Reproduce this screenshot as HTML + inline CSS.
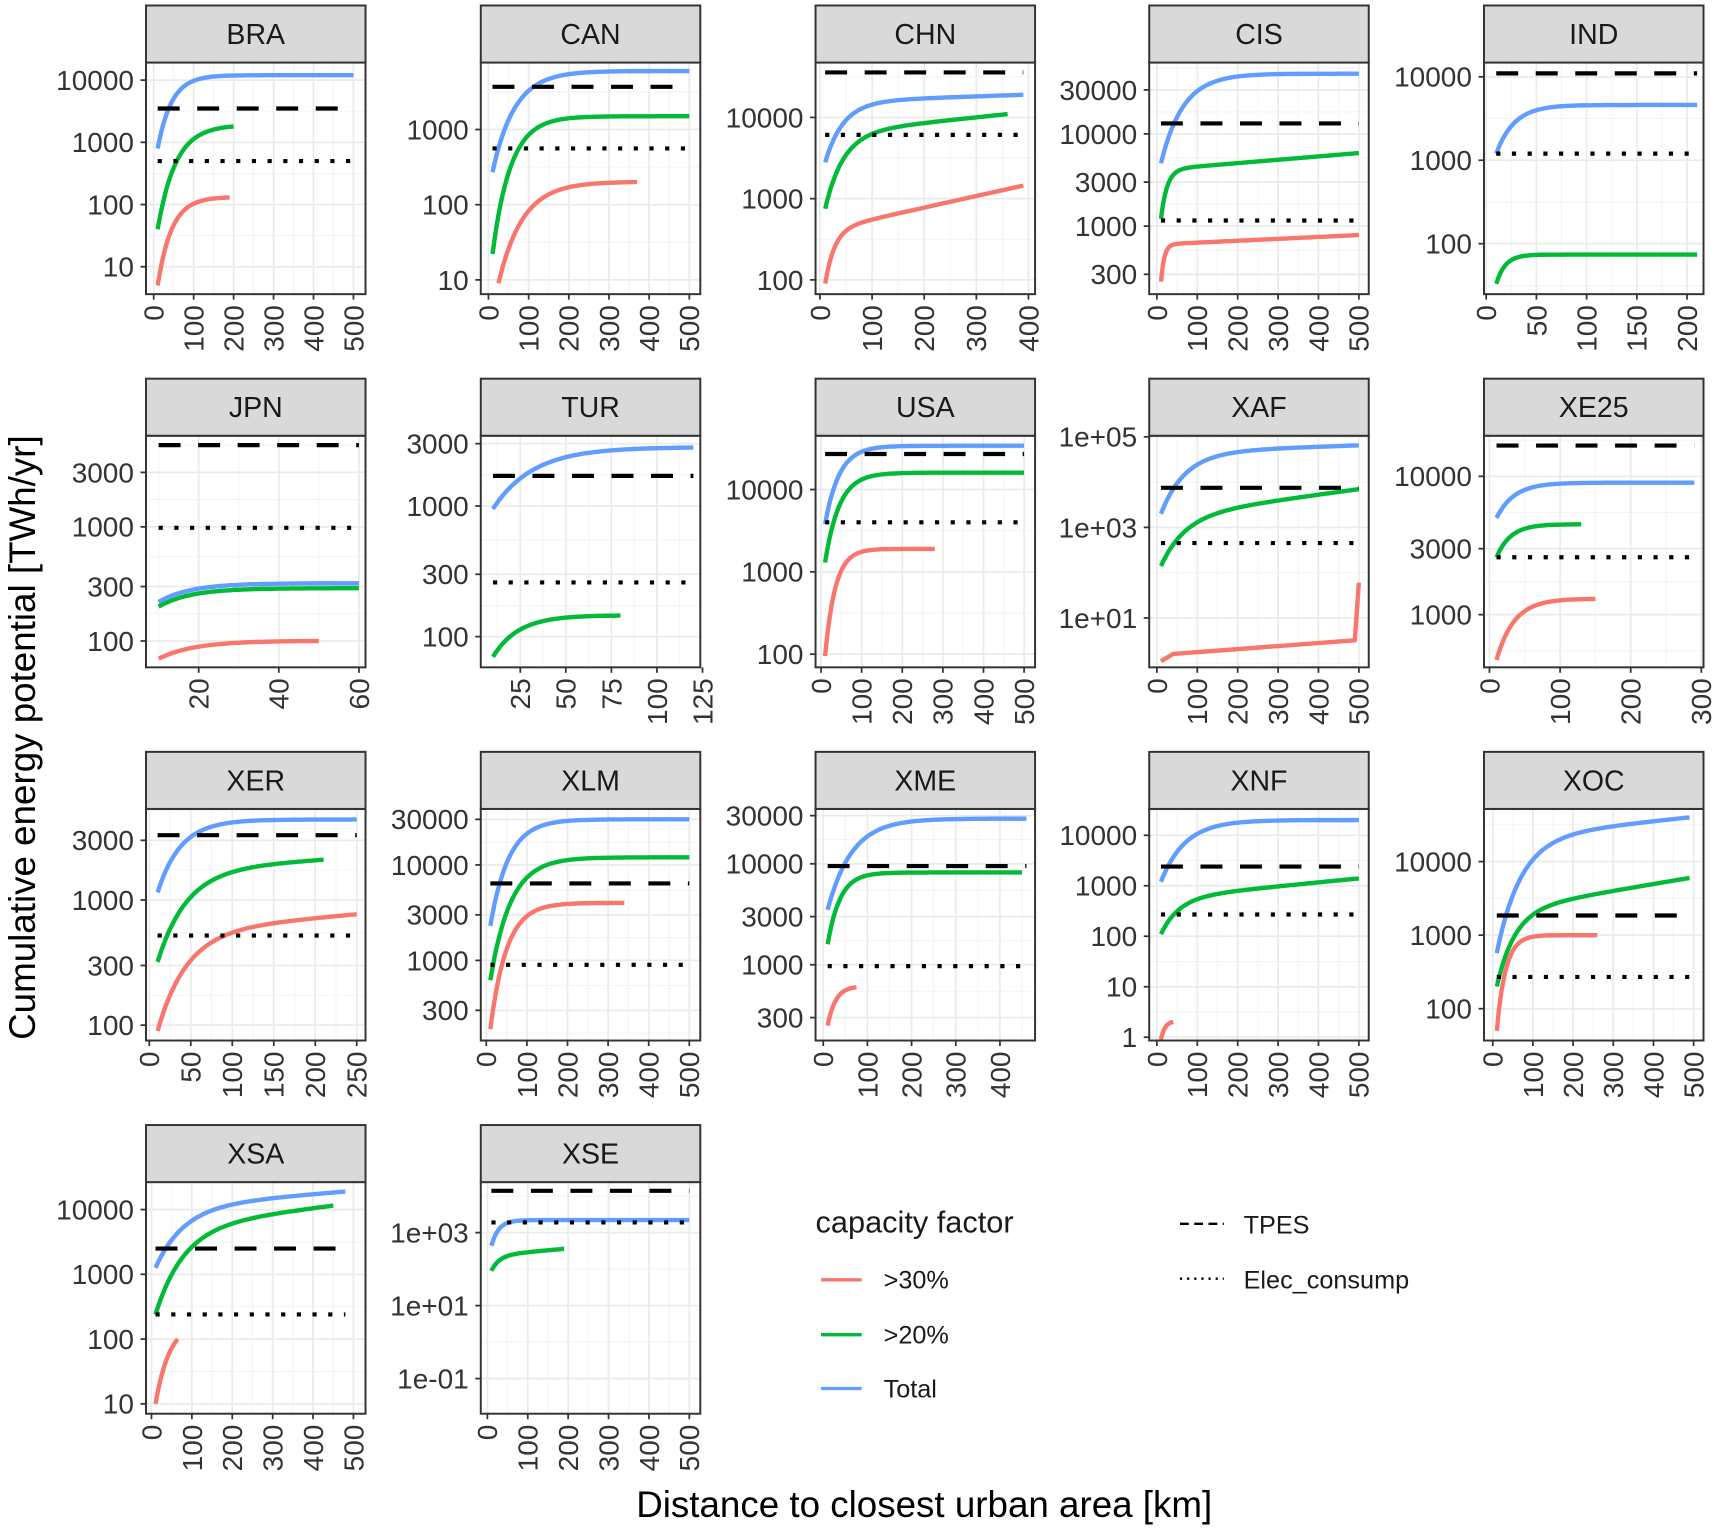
<!DOCTYPE html>
<html><head><meta charset="utf-8">
<style>html,body{margin:0;padding:0;background:#fff}svg{display:block}</style>
</head><body>
<svg id="s" xmlns="http://www.w3.org/2000/svg" width="1720" height="1535" viewBox="0 0 1567 1398.5" font-family="Liberation Sans, Arial, sans-serif"></svg>
<script>
const S=document.getElementById('s');let o='';
const colL=[133,438,743,1047,1352],rowT=[5,345,685,1025],W=200,SH=52,PH=211;
const R='#F8766D',G='#00BA38',B='#619CFF';
const P=[
{n:'BRA',c:0,r:0,xa:[0,140,500,322],xt:[0,100,200,300,400,500],xr:[10,500],ya:[10000,73,10,243],yt:[[10000,'10000'],[1000,'1000'],[100,'100'],[10,'10']],T:3500,E:500,
 cv:[[B,10,500,800,12000,35],[G,10,200,40,1800,45],[R,10,190,5,130,35]]},
{n:'CAN',c:1,r:0,xa:[0,445,500,628],xt:[0,100,200,300,400,500],xr:[10,500],ya:[1000,118,10,255],yt:[[1000,'1000'],[100,'100'],[10,'10']],T:3700,E:560,
 cv:[[B,10,500,270,6000,55],[G,10,500,22,1500,45],[R,25,370,9,200,60]]},
{n:'CHN',c:2,r:0,xa:[0,747,400,937],xt:[0,100,200,300,400],xr:[10,390],ya:[10000,107,100,255],yt:[[10000,'10000'],[1000,'1000'],[100,'100']],T:35800,E:6100,
 cv:[[B,10,390,2800,19000,35,0.1],[G,10,360,750,11000,35,0.2],[R,10,390,90,1450,18,0.45]]},
{n:'CIS',c:3,r:0,xa:[0,1054,500,1238],xt:[0,100,200,300,400,500],xr:[10,500],ya:[10000,122,1000,206],yt:[[30000,'30000'],[10000,'10000'],[3000,'3000'],[1000,'1000'],[300,'300']],T:13000,E:1150,
 cv:[[B,10,500,4800,45000,55],[G,10,500,1200,6200,15,0.25],[R,10,500,250,800,8,0.2]]},
{n:'IND',c:4,r:0,xa:[0,1354,200,1537],xt:[0,50,100,150,200],xr:[10,210],ya:[10000,70,100,222],yt:[[10000,'10000'],[1000,'1000'],[100,'100']],T:11000,E:1200,
 cv:[[B,10,210,1200,4600,18],[G,10,210,33,74,9]]},
{n:'JPN',c:0,r:1,xa:[20,181,60,327],xt:[20,40,60],xr:[10,60],ya:[1000,480,100,584],yt:[[3000,'3000'],[1000,'1000'],[300,'300'],[100,'100']],T:5200,E:980,
 cv:[[B,10,60,220,320,8],[G,10,60,200,290,8],[R,10,50,70,100,9]]},
{n:'TUR',c:1,r:1,xa:[25,474,125,640],xt:[25,50,75,100,125],xr:[10,120],ya:[1000,461,100,580],yt:[[3000,'3000'],[1000,'1000'],[300,'300'],[100,'100']],T:1700,E:260,
 cv:[[B,10,120,950,2800,22],[G,10,80,70,145,14]]},
{n:'USA',c:2,r:1,xa:[0,748,500,933],xt:[0,100,200,300,400,500],xr:[10,500],ya:[10000,446,100,596],yt:[[10000,'10000'],[1000,'1000'],[100,'100']],T:27000,E:4000,
 cv:[[B,10,500,3800,34000,35],[G,10,500,1300,16000,35],[R,10,280,95,1900,25]]},
{n:'XAF',c:3,r:1,xa:[0,1054,500,1238],xt:[0,100,200,300,400,500],xr:[10,500],ya:[1e5,398,10,563],yt:[[1e5,'1e+05'],[1e3,'1e+03'],[10,'1e+01']],T:7500,E:450,
 cv:[[B,10,500,2000,65000,60,0.1],[G,10,500,140,7000,60,0.35]],pts:[[R,[[10,1.1],[40,1.6],[490,3.2],[500,60]]]]},
{n:'XE25',c:4,r:1,xa:[0,1357,300,1550],xt:[0,100,200,300],xr:[10,290],ya:[10000,434,1000,560],yt:[[10000,'10000'],[3000,'3000'],[1000,'1000']],T:16700,E:2600,
 cv:[[B,10,290,5000,9000,25],[G,10,130,2600,4500,20],[R,10,150,470,1300,25]]},
{n:'XER',c:0,r:2,xa:[0,136,250,325],xt:[0,50,100,150,200,250],xr:[10,250],ya:[1000,820,100,934],yt:[[3000,'3000'],[1000,'1000'],[300,'300'],[100,'100']],T:3300,E:520,
 cv:[[B,10,250,1150,4400,28],[G,10,210,320,2100,35,0.1],[R,10,250,90,770,35,0.15]]},
{n:'XLM',c:1,r:2,xa:[0,443,500,628],xt:[0,100,200,300,400,500],xr:[10,500],ya:[10000,788,1000,875],yt:[[30000,'30000'],[10000,'10000'],[3000,'3000'],[1000,'1000'],[300,'300']],T:6400,E:900,
 cv:[[B,10,500,2300,30000,45],[G,10,500,620,12000,50],[R,10,340,190,4000,40]]},
{n:'XME',c:2,r:2,xa:[0,750,400,911],xt:[0,100,200,300,400],xr:[10,460],ya:[10000,787,1000,879],yt:[[30000,'30000'],[10000,'10000'],[3000,'3000'],[1000,'1000'],[300,'300']],T:9500,E:970,
 cv:[[B,10,460,3500,28000,55],[G,10,450,1600,8200,28],[R,10,75,250,600,18]]},
{n:'XNF',c:3,r:2,xa:[0,1054,500,1238],xt:[0,100,200,300,400,500],xr:[10,500],ya:[10000,761,1,945],yt:[[10000,'10000'],[1000,'1000'],[100,'100'],[10,'10'],[1,'1']],T:2400,E:270,
 cv:[[B,10,500,1200,20000,60],[G,10,500,110,1400,45,0.35],[R,10,40,0.9,2,10]]},
{n:'XOC',c:4,r:2,xa:[0,1360,500,1543],xt:[0,100,200,300,400,500],xr:[10,490],ya:[10000,785,100,919],yt:[[10000,'10000'],[1000,'1000'],[100,'100']],T:1850,E:270,
 cv:[[B,10,490,570,40000,60,0.15],[G,10,490,200,6000,45,0.3],[R,10,260,50,1000,22]]},
{n:'XSA',c:0,r:3,xa:[0,138,500,322],xt:[0,100,200,300,400,500],xr:[10,480],ya:[10000,1102,10,1279],yt:[[10000,'10000'],[1000,'1000'],[100,'100'],[10,'10']],T:2500,E:240,
 cv:[[B,10,480,1260,19000,70,0.2],[G,10,450,240,11500,70,0.2],[R,10,65,10,100,35]]},
{n:'XSE',c:1,r:3,xa:[0,444,500,628],xt:[0,100,200,300,400,500],xr:[10,500],ya:[1e3,1123,0.1,1256],yt:[[1e3,'1e+03'],[10,'1e+01'],[0.1,'1e-01']],T:14000,E:1900,
 cv:[[B,10,500,440,2200,18],[G,10,190,90,360,20,0.3]]}
];
const lg=Math.log10;
for(const p of P){
 const L=colL[p.c],T0=rowT[p.r],top=T0+SH,bot=top+PH;
 const X=v=>p.xa[1]+(v-p.xa[0])*(p.xa[3]-p.xa[1])/(p.xa[2]-p.xa[0]);
 const Y=v=>p.ya[1]+(lg(v)-lg(p.ya[0]))*(p.ya[3]-p.ya[1])/(lg(p.ya[2])-lg(p.ya[0]));
 o+=`<g><clipPath id="c${p.n}"><rect x="${L}" y="${top}" width="${W}" height="${PH}"/></clipPath>`;
 o+=`<rect x="${L}" y="${top}" width="${W}" height="${PH}" fill="#fff"/>`;
 let g='';
 const xs=p.xt;
 for(let i=0;i<xs.length-1;i++){const m=X((xs[i]+xs[i+1])/2);g+=`<line x1="${m}" x2="${m}" y1="${top}" y2="${bot}" stroke="#f2f2f2" stroke-width="0.8"/>`;}
 const st=xs[1]-xs[0];[xs[0]-st/2,xs[xs.length-1]+st/2].forEach(v=>{const m=X(v);g+=`<line x1="${m}" x2="${m}" y1="${top}" y2="${bot}" stroke="#f2f2f2" stroke-width="0.8"/>`;});
 const yv=p.yt.map(t=>t[0]);
 for(let i=0;i<yv.length-1;i++){const m=Y(Math.sqrt(yv[i]*yv[i+1]));g+=`<line x1="${L}" x2="${L+W}" y1="${m}" y2="${m}" stroke="#f2f2f2" stroke-width="0.8"/>`;}
 const r0=yv[0]/yv[1];[yv[0]*Math.sqrt(r0),yv[yv.length-1]/Math.sqrt(r0)].forEach(v=>{const m=Y(v);g+=`<line x1="${L}" x2="${L+W}" y1="${m}" y2="${m}" stroke="#f2f2f2" stroke-width="0.8"/>`;});
 xs.forEach(v=>{const m=X(v);g+=`<line x1="${m}" x2="${m}" y1="${top}" y2="${bot}" stroke="#ebebeb" stroke-width="1.6"/>`;});
 yv.forEach(v=>{const m=Y(v);g+=`<line x1="${L}" x2="${L+W}" y1="${m}" y2="${m}" stroke="#ebebeb" stroke-width="1.6"/>`;});
 o+=`<g clip-path="url(#c${p.n})">`+g;
 for(const c of p.cv){const [col,x0,x1,v0,v1,k,lin=0]=c;const l0=lg(v0),l1=lg(v1);let d='';
  for(let i=0;i<=100;i++){const x=x0+(x1-x0)*i/100;const fe=(1-Math.exp(-(x-x0)/k))/(1-Math.exp(-(x1-x0)/k));const f=(1-lin)*fe+lin*(x-x0)/(x1-x0);
   d+=(i?'L':'M')+X(x).toFixed(1)+','+Y(Math.pow(10,l0+(l1-l0)*f)).toFixed(1);}
  o+=`<path d="${d}" fill="none" stroke="${col}" stroke-width="4" stroke-linejoin="round"/>`;}
 if(p.pts)for(const [col,pts] of p.pts){o+=`<path d="${pts.map((q,i)=>(i?'L':'M')+X(q[0]).toFixed(1)+','+Y(q[1]).toFixed(1)).join('')}" fill="none" stroke="${col}" stroke-width="4" stroke-linejoin="round"/>`;}
 const xa=X(p.xr[0]),xb=X(p.xr[1]);
 o+=`<line x1="${xa}" x2="${xb}" y1="${Y(p.E)}" y2="${Y(p.E)}" stroke="#000" stroke-width="3.8" stroke-dasharray="3.8,10.5"/>`;
 o+=`<line x1="${xa}" x2="${xb}" y1="${Y(p.T)}" y2="${Y(p.T)}" stroke="#000" stroke-width="3.8" stroke-dasharray="20,16"/>`;
 o+=`</g>`;
 o+=`<rect x="${L}" y="${top}" width="${W}" height="${PH}" fill="none" stroke="#333" stroke-width="1.8"/>`;
 o+=`<rect x="${L}" y="${T0}" width="${W}" height="${SH}" fill="#d9d9d9" stroke="#333" stroke-width="1.8"/>`;
 o+=`<text x="${L+W/2}" y="${T0+SH/2+9}" text-anchor="middle" font-size="26" fill="#1a1a1a">${p.n}</text>`;
 p.yt.forEach(t=>{const m=Y(t[0]);o+=`<line x1="${L-5}" x2="${L}" y1="${m}" y2="${m}" stroke="#333" stroke-width="1.6"/><text x="${L-11}" y="${m+9}" text-anchor="end" font-size="25.5" fill="#333">${t[1]}</text>`;});
 xs.forEach(v=>{const m=X(v);o+=`<line x1="${m}" x2="${m}" y1="${bot}" y2="${bot+5}" stroke="#333" stroke-width="1.6"/><text transform="translate(${m+9},${bot+10}) rotate(-90)" text-anchor="end" font-size="25.5" fill="#333">${v}</text>`;});
 o+='</g>';
}
o+=`<text transform="translate(32,672) rotate(-90)" text-anchor="middle" font-size="33.5" fill="#000">Cumulative energy potential [TWh/yr]</text>`;
o+=`<text x="842" y="1382" text-anchor="middle" font-size="33.5" fill="#000">Distance to closest urban area [km]</text>`;
o+=`<text x="743" y="1123" font-size="28" fill="#1a1a1a">capacity factor</text>`;
[[R,'&gt;30%',1166],[G,'&gt;20%',1216],[B,'Total',1265]].forEach(a=>{o+=`<line x1="748" x2="785" y1="${a[2]}" y2="${a[2]}" stroke="${a[0]}" stroke-width="3"/><text x="805" y="${a[2]+8}" font-size="23" fill="#1a1a1a">${a[1]}</text>`;});
o+=`<line x1="1075" x2="1115" y1="1115" y2="1115" stroke="#000" stroke-width="2.2" stroke-dasharray="8,5"/><text x="1133" y="1124" font-size="23" fill="#1a1a1a">TPES</text>`;
o+=`<line x1="1075" x2="1115" y1="1165" y2="1165" stroke="#000" stroke-width="2.2" stroke-dasharray="2,4.5"/><text x="1133" y="1174" font-size="23" fill="#1a1a1a">Elec_consump</text>`;
S.innerHTML=o;
</script>
</body></html>
